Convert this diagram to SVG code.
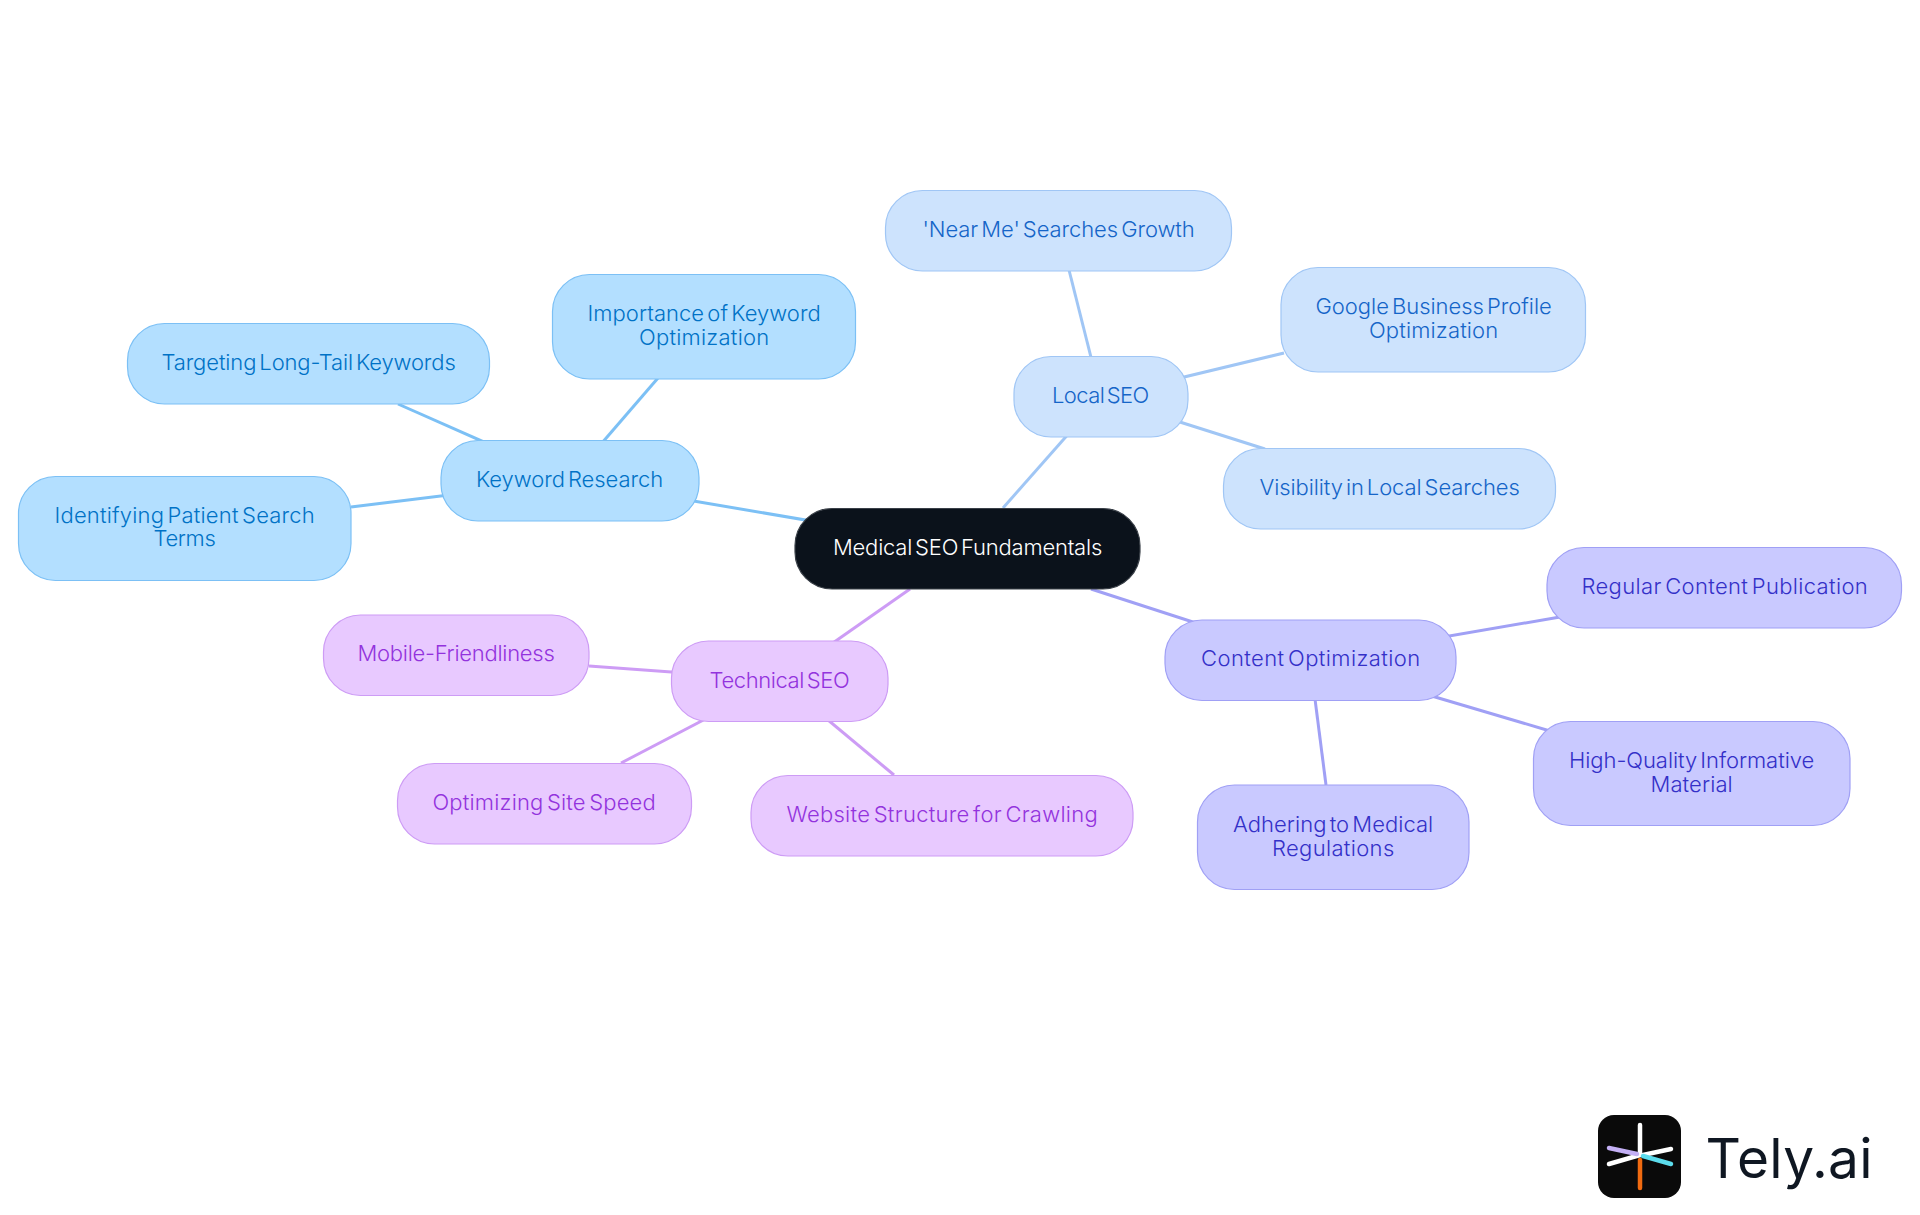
<svg xmlns="http://www.w3.org/2000/svg" width="1920" height="1215" viewBox="0 0 1920 1215">
<style>
text{font-family:"Inter","Noto Sans",sans-serif;font-size:22px;font-weight:350;text-anchor:middle;letter-spacing:-.25px;word-spacing:-3px}
.b rect{fill:#b3dfff;stroke:#7cc0f5}.b text{fill:#0072c6}
.l rect{fill:#cde3fd;stroke:#a0c6f5}.l text{fill:#1565c8}
.c rect{fill:#c9c9ff;stroke:#a0a0f5}.c text{fill:#3430c8}
.t rect{fill:#e8c9ff;stroke:#cd9cf5}.t text{fill:#9333dd}
rect{stroke-width:1.2}
#connectors line{stroke-width:3;fill:none}
</style>
<rect width="1920" height="1215" fill="#fff" style="stroke:none"/>
<g id="connectors">
<g stroke="#7cc0f5"><line x1="970" y1="548" x2="570" y2="480"/><line x1="570" y1="480" x2="398" y2="404"/><line x1="570" y1="480" x2="658" y2="378"/><line x1="570" y1="480" x2="351" y2="507"/></g>
<g stroke="#a0c6f5"><line x1="1003" y1="508" x2="1101" y2="397"/><line x1="1101" y1="397" x2="1069" y2="270"/><line x1="1101" y1="397" x2="1284" y2="353"/><line x1="1101" y1="397" x2="1265" y2="449"/></g>
<g stroke="#a0a0f5"><line x1="1091" y1="589" x2="1310" y2="660"/><line x1="1310" y1="660" x2="1560" y2="617"/><line x1="1310" y1="660" x2="1550" y2="731"/><line x1="1310" y1="660" x2="1326" y2="785"/></g>
<g stroke="#cd9cf5"><line x1="910" y1="589" x2="780" y2="680"/><line x1="780" y1="680" x2="589" y2="666"/><line x1="780" y1="680" x2="621" y2="763"/><line x1="780" y1="680" x2="894" y2="775"/></g>
</g>
<g id="center"><rect x="795" y="508.500" width="345" height="80.500" rx="37" fill="#0b121b" stroke="#3a4048"/><text x="967.500" y="555" fill="#fff" textLength="269">Medical SEO Fundamentals</text></g>
<g id="keyword" class="b"><rect x="441" y="440.500" width="258" height="80.500" rx="37"/><text x="569.500" y="487" textLength="187">Keyword Research</text></g>
<g id="importance" class="b"><rect x="552.500" y="274.500" width="303" height="104.500" rx="37"/><text x="704" y="321" textLength="233">Importance of Keyword</text><text x="704" y="345" textLength="130">Optimization</text></g>
<g id="targeting" class="b"><rect x="127.500" y="323.500" width="362" height="80.500" rx="37"/><text x="308.500" y="370" textLength="294">Targeting Long-Tail Keywords</text></g>
<g id="identifying" class="b"><rect x="18.500" y="476.500" width="332.500" height="104" rx="37"/><text x="184.500" y="523" textLength="260">Identifying Patient Search</text><text x="184.500" y="546" textLength="62">Terms</text></g>
<g id="local" class="l"><rect x="1014" y="356.500" width="174" height="80.500" rx="37"/><text x="1100.500" y="403" textLength="97">Local SEO</text></g>
<g id="nearme" class="l"><rect x="885.500" y="190.500" width="346" height="80.500" rx="37"/><text x="1058.500" y="237" textLength="272">'Near Me' Searches Growth</text></g>
<g id="google" class="l"><rect x="1281" y="267.500" width="304.500" height="104.500" rx="37"/><text x="1433.500" y="314" textLength="236">Google Business Profile</text><text x="1433.500" y="338" textLength="129">Optimization</text></g>
<g id="visibility" class="l"><rect x="1223.500" y="448.500" width="332" height="80.500" rx="37"/><text x="1389.500" y="495" textLength="260">Visibility in Local Searches</text></g>
<g id="content" class="c"><rect x="1165" y="620" width="291" height="80.500" rx="37"/><text x="1310.500" y="666" textLength="219">Content Optimization</text></g>
<g id="regular" class="c"><rect x="1547" y="547.500" width="354.500" height="80.500" rx="37"/><text x="1724.500" y="594" textLength="286">Regular Content Publication</text></g>
<g id="high" class="c"><rect x="1533.500" y="721.500" width="316.500" height="104" rx="37"/><text x="1691.500" y="768" textLength="245">High-Quality Informative</text><text x="1691.500" y="792" textLength="82">Material</text></g>
<g id="adhering" class="c"><rect x="1197.500" y="785" width="271.500" height="104.500" rx="37"/><text x="1333" y="832" textLength="200">Adhering to Medical</text><text x="1333" y="856" textLength="122">Regulations</text></g>
<g id="technical" class="t"><rect x="671.500" y="641" width="216.500" height="80.500" rx="37"/><text x="779.500" y="688" textLength="140">Technical SEO</text></g>
<g id="mobile" class="t"><rect x="323.500" y="615" width="265.500" height="80.500" rx="37"/><text x="456" y="661" textLength="197">Mobile-Friendliness</text></g>
<g id="speed" class="t"><rect x="397.500" y="763.500" width="294" height="80.500" rx="37"/><text x="544" y="810" textLength="223">Optimizing Site Speed</text></g>
<g id="website" class="t"><rect x="751" y="775.500" width="382" height="80.500" rx="37"/><text x="942" y="822" textLength="311">Website Structure for Crawling</text></g>
<g id="logo">
<rect x="1598" y="1115" width="83" height="83" rx="16" fill="#0a0a0a" style="stroke:none"/>
<g stroke-width="4.500" stroke-linecap="round"><line x1="1640" y1="1155" x2="1640" y2="1125" stroke="#fff"/><line x1="1640" y1="1155" x2="1609" y2="1164" stroke="#fff"/><line x1="1643" y1="1155" x2="1671" y2="1149" stroke="#fff"/><line x1="1637" y1="1154" x2="1609" y2="1148" stroke="#c4b0f5"/><line x1="1643" y1="1156" x2="1671" y2="1164" stroke="#5cdcec"/><line x1="1640" y1="1160" x2="1640" y2="1188" stroke="#f06a10"/></g>
<text x="1789" y="1178" fill="#0f1722" textLength="167" style="font-size:55px;font-weight:400;letter-spacing:0;word-spacing:0">Tely.ai</text>
</g>
</svg>
